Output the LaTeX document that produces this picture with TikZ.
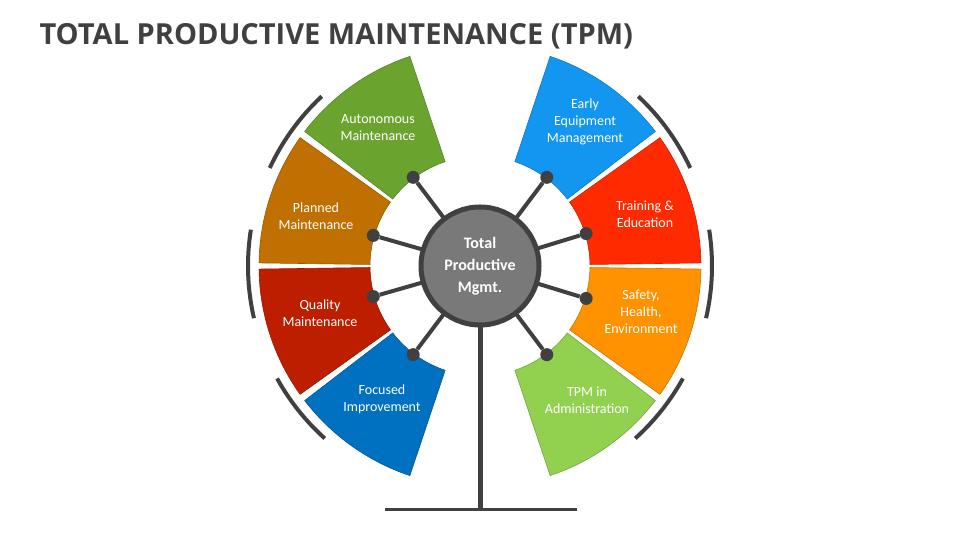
\documentclass[tikz,border=0pt]{standalone}
\usepackage{fontspec}
\setmainfont{Carlito}
\newfontfamily\titlefont{Open Sans}
\usetikzlibrary{calc}
\begin{document}
\begin{tikzpicture}[x=1pt,y=1pt,
  seglabel/.style={text=white,font=\fontsize{14}{17}\selectfont,align=center},
  dotnode/.style={circle,fill=dgray,minimum size=13pt,inner sep=0pt},
  spoke/.style={draw=dgray,line width=4pt},
  deco/.style={draw=dgray,line width=4pt}]
\definecolor{dgray}{HTML}{404040}
\definecolor{cA}{HTML}{6AA42E}
\definecolor{cP}{HTML}{C07000}
\definecolor{cQ}{HTML}{BE1E00}
\definecolor{cF}{HTML}{0070C0}
\definecolor{cE}{HTML}{1296F0}
\definecolor{cT}{HTML}{FF2A00}
\definecolor{cS}{HTML}{FF9200}
\definecolor{cM}{HTML}{92D050}
\useasboundingbox (0,0) rectangle (960,540);
\fill[white] (0,0) rectangle (960,540);
\node[anchor=west,text=dgray,font=\titlefont\bfseries\fontsize{29}{34}\selectfont] (title) at (36,504) {TOTAL PRODUCTIVE MAINTENANCE (TPM)};
\coordinate (C) at (480,274);
\def\rin{110}\def\rout{221}
\newcommand\seg[3]{%
  \draw[fill=#3,draw=#3!80!black,line width=0.6pt] ($(C)+(#1:\rin)$) arc[start angle=#1,end angle=#2,radius=\rin] -- ($(C)+(#2:\rout)$) arc[start angle=#2,end angle=#1,radius=\rout] -- cycle;}
\seg{108.5}{142.5}{cA}
\seg{144.5}{179.2}{cP}
\seg{180.8}{215.5}{cQ}
\seg{217.5}{251.5}{cF}
\seg{37.5}{71.5}{cE}
\seg{0.8}{35.5}{cT}
\seg{-35.5}{-0.8}{cS}
\seg{-71.5}{-37.5}{cM}
% decorative arcs
\foreach \a/\b in {133/155,171/193,209/228,25/47,-13/9,-48/-29}
  \draw[deco] ($(C)+(\a:232)$) arc[start angle=\a,end angle=\b,radius=232];
% stand
\coordinate (base) at (480,30);
\coordinate (bl) at (385,30);
\coordinate (br) at (577,30);
\draw[dgray,line width=5pt] (C) -- (base);
\draw[dgray,line width=3pt] (bl) -- (br);
% dots and spokes
\foreach \n/\a in {d1/127,d2/164,d3/196,d4/233,d5/53,d6/17,d7/-17,d8/-53}
  \node[dotnode] (\n) at ($(C)+(\a:111)$) {};
\node[circle,minimum size=118pt,inner sep=0pt] (c) at (C) {};
\foreach \n in {d1,d2,d3,d4,d5,d6,d7,d8}
  \draw[spoke] (c.center) -- (\n);
\node[circle,fill=gray!95!black,draw=dgray,line width=5pt,minimum size=118pt,inner sep=0pt,text=white,font=\bfseries\fontsize{16}{22}\selectfont,align=center] (cc) at (C) {Total\\Productive\\Mgmt.};
% labels
\node[seglabel] (lA) at (378,412) {Autonomous\\Maintenance};
\node[seglabel] (lP) at (316,324) {Planned\\Maintenance};
\node[seglabel] (lQ) at (320,227) {Quality\\Maintenance};
\node[seglabel] (lF) at (382,141) {Focused\\Improvement};
\node[seglabel] (lE) at (585,418) {Early\\Equipment\\Management};
\node[seglabel] (lT) at (645,326) {Training \&\\Education};
\node[seglabel] (lS) at (641,228) {Safety,\\Health,\\Environment};
\node[seglabel] (lM) at (587,140) {TPM in\\Administration};
\end{tikzpicture}
\end{document}
